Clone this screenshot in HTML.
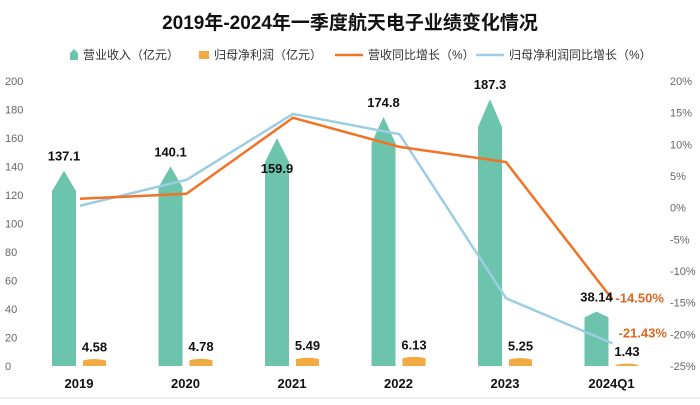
<!DOCTYPE html>
<html><head><meta charset="utf-8"><style>
body{margin:0;background:#fff;}
svg{display:block;font-family:"Liberation Sans","Noto Sans CJK SC",sans-serif;}
</style></head><body>
<svg id="c" width="700" height="405" viewBox="0 0 700 405">
<text x="350" y="29" text-anchor="middle" font-size="19" font-weight="bold" fill="#111">2019年-2024年一季度航天电子业绩变化情况</text>
<g font-size="12" fill="#333">
<g><path d="M70 60 L70 53 L74 49 L78 53 L78 60 Z" fill="#6cc4ad"/><text x="83" y="59">营业收入（亿元）</text></g>
<g><rect x="199" y="51" width="10" height="8" fill="#f2ab42"/><text x="214" y="59">归母净利润（亿元）</text></g>
<g><line x1="335" y1="55" x2="363" y2="55" stroke="#f07326" stroke-width="2.5"/><text x="368" y="59">营收同比增长（%）</text></g>
<g><line x1="476" y1="55" x2="504" y2="55" stroke="#9ccde3" stroke-width="2.5"/><text x="509" y="59">归母净利润同比增长（%）</text></g>
</g>
<g id="axes"></g><g id="bars"></g><g id="lines"></g><g id="labels"></g>
<line x1="0" y1="398" x2="700" y2="398" stroke="#ddd"/>
</svg>
<script>
const categories=["2019","2020","2021","2022","2023","2024Q1"];
const revenue=[137.1,140.1,159.9,174.8,187.3,38.14];
const profit=[4.58,4.78,5.49,6.13,5.25,1.43];
const revenueGrowth=[1.4,2.2,14.2,9.6,7.2,-14.5];
const profitGrowth=[0.3,4.4,14.8,11.6,-14.3,-21.43];
const leftTicks=[0,20,40,60,80,100,120,140,160,180,200];
const rightTicks=[20,15,10,5,0,-5,-10,-15,-20,-25];
const NS="http://www.w3.org/2000/svg";
const y0=366,y1=81;
const yL=v=>y0-(v/200)*(y0-y1);
const yR=v=>y1+(20-v)/45*(y0-y1);
const xc=i=>80+i*106.5;
function mk(t,a,p){const e=document.createElementNS(NS,t);for(const k in a)e.setAttribute(k,a[k]);p.appendChild(e);return e;}
const ax=document.getElementById('axes'),bg=document.getElementById('bars'),lg=document.getElementById('lines'),lb=document.getElementById('labels');
leftTicks.forEach(v=>{const t=mk('text',{x:5,y:yL(v)+4,'font-size':11,fill:'#666'},ax);t.textContent=v;

});
rightTicks.forEach(v=>{const t=mk('text',{x:670,y:yR(v)+4,'font-size':11,fill:'#666'},ax);t.textContent=v+'%';

});
categories.forEach((c,i)=>{const t=mk('text',{x:xc(i)-1,y:388,'text-anchor':'middle','font-size':13,'font-weight':'bold',fill:'#111'},ax);t.textContent=c;

});
revenue.forEach((v,i)=>{const l=xc(i)-28,r=l+24,top=yL(v),h=y0-top,p=h*0.105;
const b=mk('path',{d:`M${l} ${y0} L${l} ${top+p} L${(l+r)/2} ${top} L${r} ${top+p} L${r} ${y0} Z`,fill:'#6cc4ad'},bg);


const ly=i==2?top+35:top-10;
const t=mk('text',{x:(l+r)/2,y:ly,'text-anchor':'middle','font-size':13,'font-weight':'bold',fill:'#111'},lb);t.textContent=v;

});
profit.forEach((v,i)=>{const l=xc(i)+3,r=l+23,top=yL(v);
const b=mk('path',{d:`M${l} ${y0} L${l} ${top+1} Q${(l+r)/2} ${top-2} ${r} ${top+1} L${r} ${y0} Z`,fill:'#f2ab42'},bg);


const t=mk('text',{x:(l+r)/2,y:top-8,'text-anchor':'middle','font-size':13,'font-weight':'bold',fill:'#111'},lb);t.textContent=v.toFixed(2);

});
const l1=mk('polyline',{points:profitGrowth.map((v,i)=>xc(i)+','+yR(v)).join(' '),fill:'none',stroke:'#9ccde3','stroke-width':2.5},lg);


const l2=mk('polyline',{points:revenueGrowth.map((v,i)=>xc(i)+','+yR(v)).join(' '),fill:'none',stroke:'#f07326','stroke-width':2.5},lg);


const n=categories.length-1;
const a=mk('text',{x:xc(n)+3,y:yR(revenueGrowth[n])+3,'font-size':13,'font-weight':'bold',fill:'#e0661f'},lb);a.textContent=revenueGrowth[n].toFixed(2)+'%';


const b=mk('text',{x:xc(n)+6,y:yR(profitGrowth[n])-6,'font-size':13,'font-weight':'bold',fill:'#e0661f'},lb);b.textContent=profitGrowth[n].toFixed(2)+'%';


</script>
</body></html>
